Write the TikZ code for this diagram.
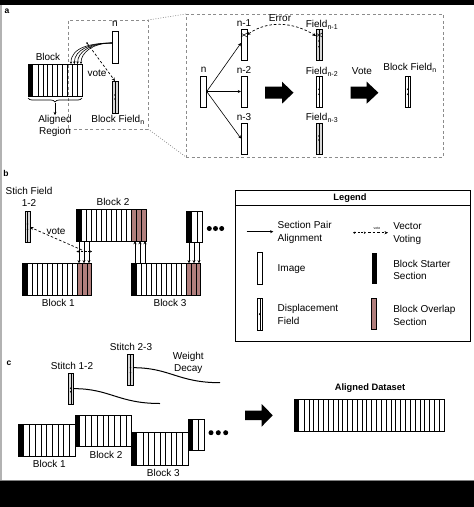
\documentclass[tikz,border=0pt]{standalone}
\usepackage{fontspec}
\setmainfont{Liberation Sans}
\usetikzlibrary{arrows.meta,decorations.pathreplacing,calc}
\definecolor{overlapc}{RGB}{176,126,124}
\definecolor{fieldgray}{RGB}{215,215,215}
\definecolor{boxgray}{RGB}{140,140,140}
\tikzset{
  every node/.style={font=\fontsize{10}{12.5}\selectfont, inner sep=0pt, outer sep=0pt},
  blockbox/.style={draw, line width=0.8pt, inner sep=0pt, outer sep=0pt},
  stripe/.style={line width=0.6pt},
  imgbox/.style={draw, fill=white, line width=0.7pt, inner sep=0pt, outer sep=0pt},
  fieldbox/.style={draw, line width=0.7pt, inner sep=0pt, outer sep=0pt},
  dashbox/.style={draw=boxgray, line width=0.7pt, dash pattern=on 3pt off 2.5pt, inner sep=0pt, outer sep=0pt},
  zoomline/.style={draw=boxgray, line width=0.6pt, dash pattern=on 1pt off 1.5pt},
  alarrow/.style={line width=0.6pt, -{Stealth[length=3.2pt,width=3pt]}},
  votearrow/.style={line width=0.7pt, dash pattern=on 2.5pt off 2pt, -{Stealth[length=3.5pt,width=3.2pt]}},
  votesym/.style={line width=0.6pt, dash pattern=on 2pt off 1.5pt, {Stealth[length=2.2pt,width=2.4pt]}-{Stealth[length=2.2pt,width=2.4pt]}},
  decaycurve/.style={line width=1pt},
  panellabel/.style={font=\fontsize{8.5}{10}\selectfont\bfseries},
  boldlabel/.style={font=\fontsize{9.3}{11}\selectfont\bfseries},
  twoline/.style={align=center},
  legtext/.style={align=left, anchor=west}
}
\newcommand{\stripblock}[8]{%
  \pgfmathsetmacro{\sbW}{#4+#5*#6}%
  \pgfmathsetmacro{\sbO}{#2+#4+#5*(#6-#7)}%
  \pgfmathsetmacro{\sbE}{#2+\sbW}%
  \pgfmathsetmacro{\sbB}{#3+#8}%
  \ifnum#7>0 \fill[overlapc] (\sbO,#3) rectangle (\sbE,\sbB);\fi
  \fill (#2,#3) rectangle ++(#4,#8);
  \pgfmathtruncatemacro{\sbN}{#6-1}%
  \foreach \i in {1,...,\sbN} {\draw[stripe] ({#2+#4+#5*\i},#3) -- ++(0,#8);}
  \node[blockbox, minimum width=\sbW pt, minimum height=#8 pt, anchor=north west] (#1) at (#2,#3) {};
}
\newcommand{\dfield}[6]{%
  \node[fieldbox, fill=#6, minimum width=#4 pt, minimum height=#5 pt, anchor=north west] (#1) at (#2,#3) {};
  \draw[line width=0.5pt] (#1.north) -- (#1.south);
}
\newcommand{\bigarrow}[6]{%
  \fill ({#1},{#2-#5}) -- ({#1+#3},{#2-#5}) -- ({#1+#3},{#2-#6}) -- ({#1+#3+#4},{#2})
        -- ({#1+#3},{#2+#6}) -- ({#1+#3},{#2+#5}) -- ({#1},{#2+#5}) -- cycle;
}
\begin{document}
\begin{tikzpicture}[x=1pt,y=-1pt]
\useasboundingbox (0,0) rectangle (474,507);
% frame
\fill[black] (0,0) rectangle (474,4.5);
\fill[black] (0,480.5) rectangle (474,507);
\fill[gray!60] (0,4.5) rectangle (1.8,480.5);
\draw[gray, line width=0.8pt] (0,480.2) -- (474,480.2);

% ================= panel a =================
\node[panellabel] (la) at (7,11) {a};
\node[dashbox, minimum width=80pt, minimum height=109pt, anchor=north west] (zl) at (68,20) {};
\node[dashbox, minimum width=257pt, minimum height=143pt, anchor=north west] (zr) at (186,14) {};
\draw[zoomline] (zl.north east) -- (zr.north west);
\draw[zoomline] (zl.south east) -- (zr.south west);

\stripblock{ablk}{28}{64}{5}{4.9}{10}{0}{32}
\node (tblock) at (48,57) {Block};
\node[imgbox, minimum width=6pt, minimum height=32pt, anchor=north west] (an) at (112,31) {};
\node (tn) at (115,24) {n};
\coordinate (acv) at ($(an.north west)+(0,12)$);
\foreach \xx/\cy in {71/47,74.3/49,77.6/51,81/53} {
  \draw[line width=0.6pt, -{Stealth[length=2.5pt,width=2.4pt]}] (acv) .. controls (92,43) and (\xx,\cy) .. (\xx,0 |- ablk.north);
}
\dfield{abf}{112}{81}{6}{32}{fieldgray}
\fill (115,95) circle[radius=0.9pt];
\fill (115,99) circle[radius=0.9pt];
\coordinate (vst) at (87,43);
\fill (vst) circle[radius=0.9pt];
\draw[votearrow] (vst) -- (abf.north);
\node (tvote) at (97,73) {vote};
\node (tbf) at (118,120) {Block Field\textsubscript{n}};
\draw[line width=0.7pt, decorate, decoration={brace, amplitude=4pt, mirror}] (ablk.south west) ++(0,2) coordinate (brl) -- (82,98) coordinate (brr);
\coordinate (brtip) at (55,103);
\node[twoline] (tar) at (55,126) {Aligned\\Region};
\draw[alarrow] (brtip) -- (tar.north);

% right zoomed box
\node[imgbox, minimum width=6pt, minimum height=31pt, anchor=north west] (rn) at (200.7,76) {};
\node (trn) at (203.7,70) {n};
\node[imgbox, minimum width=6pt, minimum height=31pt, anchor=north west] (r1) at (241,29) {};
\node (tr1) at (244,22.7) {n-1};
\node[imgbox, minimum width=6pt, minimum height=31pt, anchor=north west] (r2) at (241,76) {};
\node (tr2) at (244,70) {n-2};
\node[imgbox, minimum width=6pt, minimum height=31pt, anchor=north west] (r3) at (241,123) {};
\node (tr3) at (244,117) {n-3};
\draw[alarrow] (rn.east) -- ($(r1.north west)+(0,14)$);
\draw[alarrow] (rn.east) -- (r2.west);
\draw[alarrow] (rn.east) -- (r3.west);
\draw[line width=0.5pt] (241,33) -- (247,37) (241,37) -- (247,33);

\dfield{f1}{316}{29}{6}{31}{fieldgray}
\dfield{f2}{316}{76}{6}{31}{white}
\dfield{f3}{316}{123}{6}{31}{fieldgray}
\draw[line width=0.5pt] (316,33) -- (322,37) (316,37) -- (322,33);
\foreach \yy in {41,46.7,89.3,94.3,136,140} {\fill (319,\yy) circle[radius=0.9pt];}
\node (tf1) at (322,25) {Field\textsubscript{n-1}};
\node (tf2) at (322,72) {Field\textsubscript{n-2}};
\node (tf3) at (322,118) {Field\textsubscript{n-3}};
\draw[votearrow, {Stealth[length=3.5pt,width=3.2pt]}-{Stealth[length=3.5pt,width=3.2pt]}]
  ($(r1.north east)+(0,6)$) .. controls (266,21) and (292,21) .. ($(f1.north west)+(0,7)$);
\node (terr) at (280,18) {Error};
\bigarrow{265}{92.7}{17}{11.5}{6}{11}
\node (tvote2) at (362,71) {Vote};
\bigarrow{350.7}{92.7}{16}{11.7}{6}{11}
\node (tbf2) at (410,68) {Block Field\textsubscript{n}};
\dfield{rbf}{405}{76}{5.5}{31}{white}
\fill (407.75,89.3) circle[radius=0.9pt];
\fill (407.75,94.3) circle[radius=0.9pt];

% ================= panel b =================
\node[panellabel] (lb) at (6,173) {b};
\node[twoline] (tsf) at (29,197) {Stich Field\\1-2};
\dfield{sf}{25}{211.7}{5}{31}{fieldgray}
\fill (27.5,224) circle[radius=0.9pt];
\fill (27.5,229.3) circle[radius=0.9pt];
\stripblock{bb2}{76.7}{209}{5}{5}{13}{3}{32}
\node (tb2) at (113,202) {Block 2};
\stripblock{bb1}{22.7}{263.3}{5}{4.93}{13}{3}{32.4}
\node (tb1) at (58.3,303) {Block 1};
\stripblock{bb3}{131.7}{263.3}{5}{4.93}{13}{3}{32.4}
\node (tb3) at (170,303) {Block 3};
\stripblock{bb4}{186}{211.7}{5.5}{5.3}{2}{0}{31}
\foreach \xx in {79,84,89} {\draw[alarrow] (\xx,0 |- bb2.south) -- (\xx,0 |- bb1.north);}
\foreach \xx in {135,140,145} {\draw[alarrow] (\xx,0 |- bb3.north) -- (\xx,0 |- bb2.south);}
\foreach \xx in {189,194,199} {\draw[alarrow] (\xx,0 |- bb4.south) -- (\xx,0 |- bb3.north);}
\coordinate (vsl) at (76.5,251.5);
\coordinate (vsr) at (92,251.5);
\draw[votesym] (vsl) -- (vsr);
\coordinate (bvst) at (82,250);
\draw[votearrow] (bvst) -- (sf.east);
\node (tbvote) at (56,231) {vote};
\foreach \xx in {209.3,215.5,221.7} {\fill (\xx,228.5) circle[radius=2.5pt];}

% legend
\node[draw, line width=0.8pt, minimum width=235pt, minimum height=151pt, anchor=north west] (leg) at (235,190) {};
\draw[line width=0.8pt] ($(leg.north west)+(0,15)$) -- ($(leg.north east)+(0,15)$);
\node[boldlabel] (tleg) at (350,198) {Legend};
\coordinate (lal) at (246.7,231.7);
\coordinate (lar) at (273.3,231.7);
\draw[alarrow] (lal) -- (lar);
\node[legtext] (tlsp) at (277.7,232.5) {Section Pair\\Alignment};
\coordinate (lv1) at (353,232.7);
\coordinate (lv2) at (366,232.7);
\coordinate (lv3) at (368,232.7);
\coordinate (lv4) at (388,232.7);
\draw[votesym] (lv1) -- (lv2);
\draw[votearrow, line width=0.6pt] (lv3) -- (lv4);
\node[font=\fontsize{3.5}{4}\selectfont] (tlvote) at (377,228.3) {vote};
\node[legtext] (tlvv) at (393.3,233.7) {Vector\\Voting};
\node[imgbox, minimum width=5pt, minimum height=32pt, anchor=north west] (limg) at (257.3,252.7) {};
\node[legtext] (tlimg) at (277.7,269.3) {Image};
\node[fill=black, minimum width=5pt, minimum height=31.5pt, anchor=north west] (lbs) at (371.7,252.7) {};
\node[legtext] (tlbs) at (393.3,270) {Block Starter\\Section};
\dfield{ldf}{257.3}{298.3}{5}{31.7}{white}
\fill (ldf.center) circle[radius=1pt];
\node[legtext] (tldf) at (277.7,314.5) {Displacement\\Field};
\node[draw, line width=0.6pt, fill=overlapc, minimum width=5pt, minimum height=31pt, anchor=north west] (lbo) at (371.7,298.3) {};
\node[legtext] (tlbo) at (393.3,315.5) {Block Overlap\\Section};

% ================= panel c =================
\node[panellabel] (lc) at (9,363) {c};
\node (ts12) at (72,365.7) {Stitch 1-2};
\dfield{s12}{68.3}{373.3}{5}{30.7}{fieldgray}
\fill (70.8,388.3) circle[radius=0.9pt];
\fill (70.8,391.7) circle[radius=0.9pt];
\coordinate (c1e) at (160,403.5);
\draw[decaycurve] (s12.east) .. controls (110,388.5) and (118,403.5) .. (c1e);
\node (ts23) at (131,347.3) {Stitch 2-3};
\dfield{s23}{127.7}{354.3}{5.6}{30.7}{fieldgray}
\fill (130.5,367.7) circle[radius=0.9pt];
\fill (130.5,372.7) circle[radius=0.9pt];
\coordinate (c2s) at ($(s23.north east)+(0,13.4)$);
\coordinate (c2e) at (220,382.7);
\draw[decaycurve] (c2s) .. controls (170,367.7) and (178,382.7) .. (c2e);
\node[twoline] (twd) at (188.3,363) {Weight\\Decay};

\stripblock{cb1}{18.3}{424.3}{5.7}{5.67}{9}{0}{32.4}
\stripblock{cb2}{75}{415}{5}{5.74}{9}{0}{31.7}
\stripblock{cb3}{131.7}{432.7}{5.7}{5.62}{9}{0}{32.3}
\stripblock{cb4}{188.3}{419.3}{5}{5.3}{2}{0}{31.4}
\node (tc1) at (49.3,464) {Block 1};
\node (tc2) at (106,455) {Block 2};
\node (tc3) at (163.3,473.3) {Block 3};
\foreach \xx in {211,218.3,225.7} {\fill (\xx,432.7) circle[radius=2.5pt];}
\bigarrow{245}{415.3}{16.7}{11}{4.7}{11.3}
\node[boldlabel] (tad) at (370,388.3) {Aligned Dataset};
\stripblock{ad}{294.3}{399.3}{5}{4.82}{30}{0}{32.4}
\end{tikzpicture}
\end{document}
